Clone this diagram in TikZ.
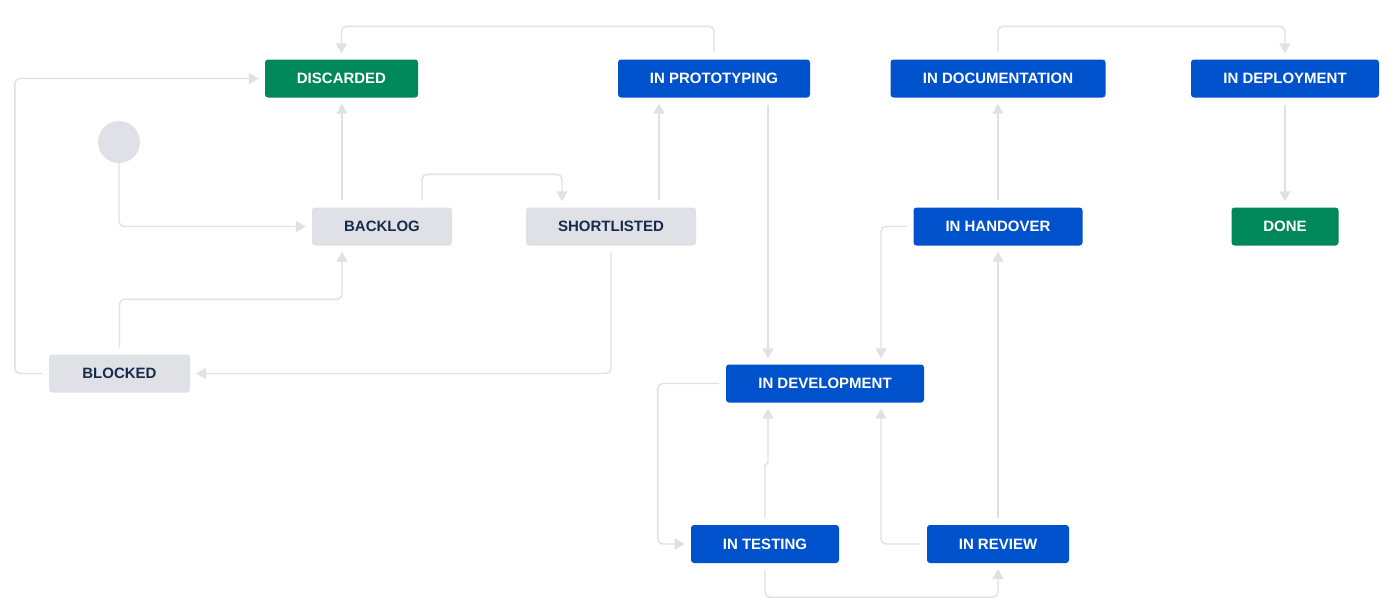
\documentclass[tikz,border=0pt]{standalone}
\usepackage{fontspec}
\setmainfont{Liberation Sans}
\usetikzlibrary{arrows.meta}
\definecolor{jblue}{HTML}{0052CC}
\definecolor{jgreen}{HTML}{00875A}
\definecolor{jgrey}{HTML}{DFE1E6}
\definecolor{jtext}{HTML}{172B4D}
\definecolor{jline}{HTML}{DFE1E6}
\tikzset{
  stbox/.style={rounded corners=3pt, minimum height=38pt, inner sep=0pt,
    font=\fontsize{15}{18}\selectfont\bfseries},
  bluebox/.style={stbox, fill=jblue, text=white},
  greenbox/.style={stbox, fill=jgreen, text=white},
  greybox/.style={stbox, fill=jgrey, text=jtext},
  edge/.style={draw=jline, line width=1.4pt, rounded corners=5pt,
    -{Triangle[width=11pt,length=10pt]}, shorten <=7pt, shorten >=6pt},
}
\begin{document}
\begin{tikzpicture}[x=1pt,y=-1pt]
\useasboundingbox[fill=white] (0,0) rectangle (1400,613);
% nodes
\node[greenbox, minimum width=153pt] (discarded) at (341.5,78.5) {DISCARDED};
\node[bluebox, minimum width=192pt] (prototyping) at (714,78.5) {IN PROTOTYPING};
\node[bluebox, minimum width=215pt] (documentation) at (998,78.5) {IN DOCUMENTATION};
\node[bluebox, minimum width=188pt] (deployment) at (1285,78.5) {IN DEPLOYMENT};
\node[greybox, minimum width=140pt] (backlog) at (382,226.5) {BACKLOG};
\node[greybox, minimum width=170pt] (shortlisted) at (611,226.5) {SHORTLISTED};
\node[bluebox, minimum width=169pt] (handover) at (998,226.5) {IN HANDOVER};
\node[greenbox, minimum width=107pt] (done) at (1285,226.5) {DONE};
\node[greybox, minimum width=141pt] (blocked) at (119.5,373.5) {BLOCKED};
\node[bluebox, minimum width=198pt] (development) at (825,383.5) {IN DEVELOPMENT};
\node[bluebox, minimum width=148pt] (testing) at (765,544) {IN TESTING};
\node[bluebox, minimum width=142pt] (review) at (998,544) {IN REVIEW};
\node[circle, fill=jgrey, minimum size=42pt, inner sep=0pt] (start) at (119,142) {};
% edges
\draw[edge, shorten <=0pt] (start.south) |- (backlog.west);
\draw[edge] ([xshift=-40pt]backlog.north) -- ([xshift=-40pt]backlog.north |- discarded.south);
\draw[edge] ([xshift=40pt]backlog.north) -- ++(0,-33) -| ([xshift=-49pt]shortlisted.north);
\draw[edge] ([xshift=48pt]shortlisted.north) -- ([xshift=48pt]shortlisted.north |- prototyping.south);
\draw[edge] (prototyping.north) -- ++(0,-33) -| (discarded.north);
\draw[edge] (blocked.west) -- ++(-34,0) |- (discarded.west);
\draw[edge] (blocked.north) -- ++(0,-55) -| ([xshift=-40pt]backlog.south);
\draw[edge] (shortlisted.south) |- (blocked.east);
\draw[edge] ([xshift=54pt]prototyping.south) -- ([xshift=54pt]prototyping.south |- development.north);
\draw[edge] (handover.west) -| ([xshift=56pt]development.north);
\draw[edge] (development.west) -- ++(-68,0) |- (testing.west);
\draw[edge, rounded corners=1.5pt] (testing.north) -- ++(0,-61) -| ([xshift=-57pt]development.south);
\draw[edge] (review.west) -| ([xshift=56pt]development.south);
\draw[edge] (testing.south) -- ++(0,34) -| (review.south);
\draw[edge] (review.north) -- (handover.south);
\draw[edge] (handover.north) -- (documentation.south);
\draw[edge] (documentation.north) -- ++(0,-33) -| (deployment.north);
\draw[edge] (deployment.south) -- (done.north);
\end{tikzpicture}
\end{document}
